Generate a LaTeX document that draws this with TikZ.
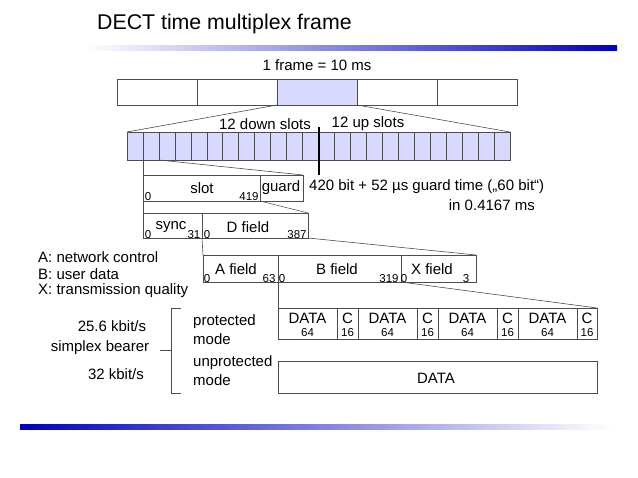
\documentclass[tikz,border=0pt]{standalone}
\usepackage{fontspec}
\setmainfont{Liberation Sans}
\begin{document}
\begin{tikzpicture}[x=1pt,y=-1pt,
  box/.style={draw=black!70,line width=0.6pt},
  lav/.style={fill=blue!15},
  t/.style={font=\fontsize{15}{17}\selectfont,inner sep=0pt},
  s/.style={font=\fontsize{11.5}{13}\selectfont,inner sep=0pt},
  ln/.style={draw=black!70,line width=0.6pt}]
\useasboundingbox (0,0) rectangle (638,478);
\node[anchor=west,font=\fontsize{21.3}{25}\selectfont,inner sep=0pt] (title) at (97,24) {DECT time multiplex frame};
\shade[left color=white,right color=blue!75!black] (85,46) rectangle (617,51);
\shade[left color=blue!75!black,right color=white] (20,425) rectangle (612,430);
% frame
\node[t] (fl) at (317,65) {1 frame = 10 ms};
\fill[lav] (277,79) rectangle (357,105);
\foreach \i in {0,...,4}{\draw[box] ({117+80*\i},79) rectangle ({197+80*\i},105);}
\coordinate (fa) at (277,105); \coordinate (fb) at (357,105);
% slots
\foreach \i in {0,...,23}{\draw[box,lav] ({127+15.96*\i},132) rectangle ({127+15.96*(\i+1)},160);}
\coordinate (sa) at (127,132); \coordinate (sb) at (510,132);
\draw[ln] (fa) -- (sa); \draw[ln] (fb) -- (sb);
\draw[line width=2pt] (319,127) -- (319,175);
\node[t] (dn) at (265,124) {12 down slots};
\node[t] (up) at (368,124) {12 up slots};
% slot detail
\draw[box] (143,175) rectangle (303,201); \draw[ln] (260,175) -- (260,201);
\coordinate (s2a) at (143,160); \coordinate (s2b) at (159,160);
\draw[ln] (s2a) -- (143,175); \draw[ln] (s2b) -- (303,175);
\node[t] (slot) at (202,188) {slot};
\node[t] (guard) at (281,188) {guard};
\node[s] at (148,197) {0}; \node[s] at (249,197) {419};
\node[t,anchor=west] (n1) at (309,187) {420 bit + 52 µs guard time („60 bit“)};
\node[t,anchor=east] (n2) at (535,205) {in 0.4167 ms};
% sync / D
\draw[box] (143,213) rectangle (308,238); \draw[ln] (202,213) -- (202,238);
\draw[ln] (143,201) -- (143,213); \draw[ln] (260,201) -- (308,213);
\node[s] at (148,235) {0}; \node[t] at (171,227) {sync};
\node[s] at (194,235) {31}; \node[s] at (207,235) {0};
\node[t] at (248,227) {D field}; \node[s] at (297,235) {387};
% A B X
\draw[box] (203,255) rectangle (476,282); \draw[ln] (278,255) -- (278,282); \draw[ln] (401,255) -- (401,282);
\draw[ln] (202,238) -- (203,255); \draw[ln] (308,238) -- (476,255);
\node[s] at (207,279) {0}; \node[t] at (236,269) {A field}; \node[s] at (269,279) {63};
\node[s] at (282,279) {0}; \node[t] at (337,269) {B field}; \node[s] at (389,279) {319};
\node[s] at (404,279) {0}; \node[t] at (432,269) {X field}; \node[s] at (466,279) {3};
\node[t,anchor=west] at (38,257) {A: network control};
\node[t,anchor=west] at (38,274) {B: user data};
\node[t,anchor=west] at (38,291) {X: transmission quality};
% DATA row
\draw[box] (278,308) rectangle (597,339);
\foreach \x in {337,358,417,438,497,518,577}{\draw[ln] (\x,308) -- (\x,339);}
\draw[ln] (278,282) -- (278,308); \draw[ln] (401,282) -- (597,308);
\foreach \a/\b in {278/337,358/417,438/497,518/577}{
  \node[t] at ({(\a+\b)/2},318) {DATA}; \node[s] at ({(\a+\b)/2},333) {64};}
\foreach \a/\b in {337/358,417/438,497/518,577/597}{
  \node[t] at ({(\a+\b)/2},318) {C}; \node[s] at ({(\a+\b)/2},333) {16};}
\draw[box] (278,361) rectangle (597,393);
\node[t] at (436,378) {DATA};
% bracket
\draw[ln] (181,308) -- (171,308) -- (171,393) -- (181,393);
\draw[ln] (160,350) -- (171,350);
\node[t] at (112,326) {25.6 kbit/s};
\node[t] at (100,348) {simplex bearer};
\node[t] at (116,374) {32 kbit/s};
\node[t,anchor=west] at (193,322) {protected};
\node[t,anchor=west] at (193,339) {mode};
\node[t,anchor=west] at (193,363) {unprotected};
\node[t,anchor=west] at (193,380) {mode};
\end{tikzpicture}
\end{document}
